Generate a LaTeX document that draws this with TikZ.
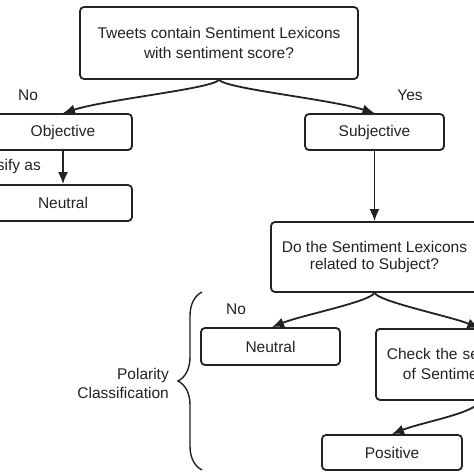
\documentclass[tikz,border=0pt]{standalone}
\usepackage{fontspec}
\setmainfont{Liberation Sans}
\usetikzlibrary{arrows.meta}
\usetikzlibrary{decorations.pathreplacing}
\definecolor{ink}{RGB}{34,34,34}

\begin{document}
\begin{tikzpicture}[x=1pt,y=-1pt,
  box/.style={draw=ink,line width=1.8pt,rounded corners=4pt,align=center,inner sep=0pt,text=ink},
  lbl/.style={text=ink,inner sep=0pt},
  arr/.style={draw=ink,line width=1.8pt,-{Latex[length=12pt,width=10pt]}},
  font=\fontsize{15.5}{20}\selectfont]
\useasboundingbox (0,0) rectangle (474,474);
\clip (0,0) rectangle (474,474);
% first question
\node[box,minimum width=278pt,minimum height=72pt] (q1) at (219,43) {Tweets contain Sentiment Lexicons\\with sentiment score?};
\node[box,minimum width=138pt,minimum height=36pt] (obj) at (63,132) {Objective};
\node[box,minimum width=139pt,minimum height=36pt] (subj) at (374.5,132) {Subjective};
\node[box,minimum width=138pt,minimum height=36pt] (neu1) at (63,203) {Neutral};
\node[lbl] (no1) at (28,95) {No};
\node[lbl] (yes1) at (410,95) {Yes};
\node[lbl,anchor=east] (clsf) at (41,166) {sify as};
\draw[arr] (q1.south) .. controls +(-8,9) and +(45,-14) .. (obj.north);
\draw[arr] (q1.south) .. controls +(8,9) and +(-45,-14) .. (subj.north);
\draw[arr] (obj.south) -- (neu1.north);
% second question
\node[box,minimum width=207pt,minimum height=70pt,font=\fontsize{15.5}{17.5}\selectfont] (q2) at (374.5,257) {Do the Sentiment Lexicons\\related to Subject?};
\draw[arr] (subj.south) -- (q2.north);
\node[box,minimum width=139pt,minimum height=37pt] (neu2) at (270.5,346.5) {Neutral};
\node[box,minimum width=207pt,minimum height=71pt,inner xsep=11pt,text width=185pt,align=left,anchor=north west] (chk) at (375,328) {Check the se\\\hspace*{16pt}of Sentime};
\node[box,minimum width=140pt,minimum height=35pt] (pos) at (392,452.5) {Positive};
\node[lbl] (no2) at (236,309) {No};
\draw[arr] (q2.south) .. controls +(-5,9) and +(30,-12) .. ([xshift=1.5pt]neu2.north);
\draw[arr] (q2.south) .. controls +(5,9) and +(-30,-12) .. (chk.north);
\draw[arr] (chk.south) .. controls +(-2,12) and +(30,-12) .. (pos.north);
% polarity
\draw[ink,line width=1.4pt,decorate,decoration={brace,amplitude=24pt,aspect=0.5}] (202,470) -- (202,292);
\node[lbl,align=right,anchor=east,font=\fontsize{15.5}{19}\selectfont] (pol) at (169,383) {Polarity\\Classification};
\end{tikzpicture}
\end{document}
